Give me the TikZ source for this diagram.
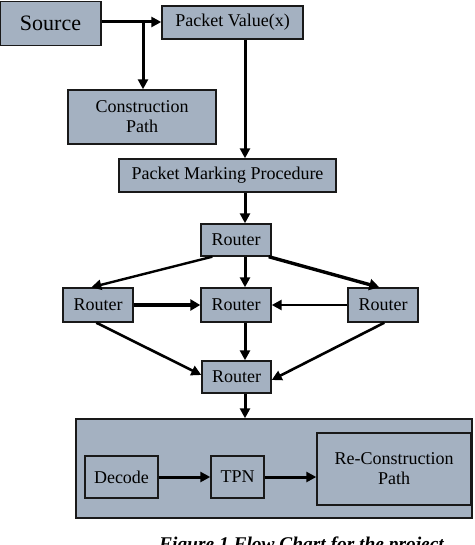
\documentclass[tikz,border=0pt]{standalone}
\usepackage{fontspec}
\setmainfont{Liberation Serif}
\usetikzlibrary{arrows.meta,calc}
\definecolor{boxfill}{RGB}{164,177,193}
\definecolor{boxline}{RGB}{25,25,25}
\tikzset{
  box/.style={draw=boxline,fill=boxfill,line width=1.4pt,inner sep=0pt,align=center,font=\fontsize{18}{20}\selectfont},
  arr/.style={line width=3pt,-{Triangle[length=10pt,width=10pt]}},
  arrthick/.style={line width=4.5pt,-{Triangle[length=10pt,width=11pt]}},
}
\begin{document}
\begin{tikzpicture}[x=1pt,y=-1pt]
\useasboundingbox (0,0) rectangle (474,545);
\node[box,minimum width=101pt,minimum height=44pt,font=\fontsize{22}{24}\selectfont] (src) at (50.5,23.5) {Source};
\node[box,minimum width=141pt,minimum height=33pt] (pv) at (232.5,22.5) {Packet Value(x)};
\node[box,minimum width=148pt,minimum height=54pt] (cp) at (142,117) {Construction\\Path};
\node[box,minimum width=217pt,minimum height=33pt] (pmp) at (227.5,175.5) {Packet Marking Procedure};
\node[box,minimum width=70pt,minimum height=32pt] (r1) at (236,240) {Router};
\node[box,minimum width=70pt,minimum height=34pt] (rl) at (98,305) {Router};
\node[box,minimum width=70pt,minimum height=34pt] (rm) at (236,305) {Router};
\node[box,minimum width=70pt,minimum height=34pt] (rr) at (383,305) {Router};
\node[box,minimum width=69pt,minimum height=32pt] (rb) at (236.5,377) {Router};
\node[box,minimum width=396pt,minimum height=99pt] (big) at (274,468.5) {};
\node[box,minimum width=73pt,minimum height=42pt] (dec) at (121.5,477) {Decode};
\node[box,minimum width=53pt,minimum height=42pt] (tpn) at (237.5,477) {TPN};
\node[box,minimum width=154pt,minimum height=72pt] (rcp) at (394,469) {Re-Construction\\Path};
\node[font=\fontsize{19.4}{21}\selectfont\bfseries\itshape,anchor=base west,inner sep=0pt] (cap) at (159,550) {Figure 1 Flow Chart for the project};
\coordinate (spine) at (245,0);
% top
\draw[arr] (src.east |- 0,22) -- (pv.west |- 0,22);
\draw[arr] (143,22) -- (cp.north -| 143,0);
\draw[arr] (pv.south -| spine) -- (pmp.north -| spine);
\draw[arr] (pmp.south -| spine) -- (r1.north -| spine);
% routers
\draw[arr] (r1.south -| spine) -- (rm.north -| spine);
\draw[arr,line width=2.4pt] ($(r1.south west)+(12,0)$) -- ($(rl.north west)+(29,0)$);
\draw[arrthick,line width=3.4pt] ($(r1.south east)+(-3,0)$) -- ($(rr.north west)+(32,0)$);
\draw[arrthick] (rl.east) -- (rm.west);
\draw[arr,line width=2.4pt] (rr.west) -- (rm.east);
\draw[arr] (rm.south -| spine) -- (rb.north -| spine);
\draw[arr,line width=2.6pt] ($(rl.south west)+(34,0)$) -- ($(rb.west)+(0,-2)$);
\draw[arr,line width=2.6pt] ($(rr.south west)+(37,0)$) -- ($(rb.east)+(0,3)$);
\draw[arr] (rb.south -| spine) -- (big.north -| spine);
% bottom
\draw[arr] (dec.east) -- (tpn.west);
\draw[arr] (tpn.east) -- (rcp.west |- tpn.east);
\end{tikzpicture}
\end{document}
